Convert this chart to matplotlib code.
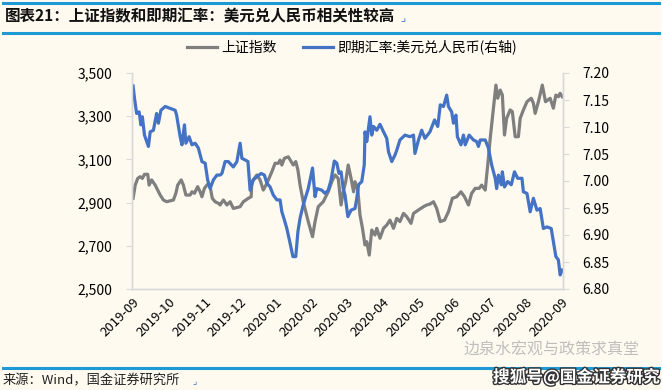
import matplotlib
matplotlib.use("Agg")
import matplotlib.patheffects as pe
import matplotlib.pyplot as plt

# ---------------------------------------------------------------------------
# Data (x = months since 2019-09)
# ---------------------------------------------------------------------------
MONTH_LABELS = ["2019-09", "2019-10", "2019-11", "2019-12", "2020-01", "2020-02",
                "2020-03", "2020-04", "2020-05", "2020-06", "2020-07", "2020-08",
                "2020-09"]

SH_X = [0.00, 0.06, 0.13, 0.20, 0.26, 0.32, 0.41, 0.45, 0.52, 0.62, 0.69, 0.76,
        0.85, 0.94, 1.13, 1.20, 1.25, 1.35, 1.41, 1.48, 1.60, 1.65, 1.72, 1.81,
        1.88, 1.93, 2.00, 2.09, 2.16, 2.22, 2.30, 2.39, 2.44, 2.53, 2.63, 2.72,
        2.81, 3.00, 3.09, 3.23, 3.31, 3.33, 3.47, 3.56, 3.65, 3.75, 3.89, 3.98,
        4.07, 4.12, 4.17, 4.24, 4.35, 4.43, 4.49, 4.56, 4.62, 4.68, 4.77, 4.91,
        5.03, 5.10, 5.19, 5.33, 5.47, 5.57, 5.66, 5.75, 5.83, 5.89, 5.96, 6.03,
        6.11, 6.18, 6.22, 6.30, 6.36, 6.43, 6.50, 6.55, 6.62, 6.69, 6.78, 6.83,
        6.92, 7.02, 7.11, 7.20, 7.30, 7.39, 7.48, 7.58, 7.67, 7.79, 7.86, 8.00,
        8.14, 8.23, 8.32, 8.42, 8.51, 8.61, 8.73, 8.84, 8.95, 9.07, 9.19, 9.29,
        9.40, 9.49, 9.59, 9.70, 9.77, 9.87, 9.94, 10.01, 10.10, 10.17, 10.22,
        10.29, 10.35, 10.41, 10.47, 10.57, 10.63, 10.71, 10.80, 10.85, 10.94,
        11.04, 11.16, 11.22, 11.27, 11.36, 11.47, 11.56, 11.69, 11.78, 11.85,
        11.92, 11.97, 12.03]
SH_INDEX = [2920, 2981, 3012, 3020, 3012, 3031, 3031, 2981, 3005, 2981, 2958, 2935,
            2912, 2904, 2912, 2943, 2981, 3005, 2981, 2935, 2935, 2950, 2943, 2974,
            2950, 2927, 2966, 2985, 2974, 2920, 2904, 2897, 2889, 2912, 2889, 2904,
            2873, 2881, 2904, 2920, 2927, 2997, 3028, 3005, 2958, 2989, 3043, 3082,
            3082, 3097, 3074, 3105, 3112, 3090, 3074, 3090, 3051, 2981, 2904, 2812,
            2742, 2812, 2881, 2904, 2950, 2997, 3028, 3012, 2889, 2950, 2997, 3074,
            3012, 2950, 2997, 2958, 2843, 2781, 2704, 2719, 2657, 2773, 2750, 2781,
            2735, 2781, 2796, 2819, 2781, 2827, 2812, 2850, 2835, 2804, 2850, 2866,
            2881, 2889, 2893, 2904, 2873, 2812, 2819, 2858, 2920, 2927, 2950, 2927,
            2889, 2943, 2966, 2966, 2981, 2958, 3074, 3198, 3337, 3444, 3383,
            3421, 3398, 3213, 3290, 3329, 3321, 3205, 3205, 3290, 3329,
            3367, 3383, 3360, 3313, 3367, 3444, 3367, 3383, 3337, 3398,
            3390, 3406, 3390]

FX_X = [0.00, 0.04, 0.10, 0.17, 0.22, 0.26, 0.32, 0.43, 0.48, 0.57, 0.66, 0.71,
        0.78, 0.90, 1.18, 1.22, 1.32, 1.37, 1.44, 1.48, 1.57, 1.65, 1.74, 1.83,
        1.93, 2.02, 2.09, 2.16, 2.25, 2.35, 2.44, 2.49, 2.58, 2.67, 2.81, 2.91,
        3.00, 3.05, 3.14, 3.22, 3.28, 3.37, 3.47, 3.59, 3.68, 3.75, 3.84, 3.93,
        4.03, 4.12, 4.17, 4.24, 4.31, 4.40, 4.48, 4.56, 4.62, 4.68, 4.77, 4.91,
        5.03, 5.10, 5.15, 5.29, 5.38, 5.47, 5.55, 5.64, 5.71, 5.77, 5.83, 5.89,
        5.94, 6.02, 6.11, 6.22, 6.27, 6.32, 6.41, 6.48, 6.50, 6.55, 6.60, 6.64,
        6.69, 6.74, 6.83, 6.92, 7.02, 7.11, 7.16, 7.25, 7.34, 7.39, 7.48, 7.62,
        7.76, 7.86, 7.90, 8.00, 8.09, 8.18, 8.32, 8.45, 8.54, 8.61, 8.70, 8.75,
        8.79, 8.84, 8.93, 8.98, 9.05, 9.09, 9.19, 9.26, 9.31, 9.42, 9.54, 9.63,
        9.68, 9.73, 9.87, 9.96, 10.05, 10.15, 10.19, 10.24, 10.32, 10.35, 10.41,
        10.50, 10.60, 10.69, 10.78, 10.90, 10.94, 11.04, 11.13, 11.22, 11.32,
        11.41, 11.50, 11.60, 11.72, 11.78, 11.85, 11.92, 11.97, 12.03]
USDCNY = [7.176, 7.153, 7.125, 7.128, 7.104, 7.119, 7.085, 7.064, 7.091, 7.094, 7.125, 7.107,
          7.131, 7.138, 7.131, 7.122, 7.082, 7.067, 7.104, 7.070, 7.082, 7.067, 7.070, 7.061,
          7.036, 7.033, 7.002, 6.986, 7.002, 7.011, 7.011, 7.014, 7.036, 7.036, 7.026, 7.036,
          7.070, 7.042, 7.039, 7.036, 6.983, 7.002, 7.008, 7.014, 7.011, 6.996, 6.989, 6.974,
          6.965, 6.965, 6.943, 6.928, 6.912, 6.885, 6.860, 6.860, 6.906, 6.931, 6.956, 6.986,
          7.024, 6.971, 6.986, 6.983, 6.977, 6.983, 7.002, 7.037, 7.033, 7.014, 7.017, 6.986,
          6.974, 6.934, 6.946, 6.949, 6.968, 6.993, 6.999, 7.030, 7.091, 7.073, 7.098, 7.119,
          7.085, 7.101, 7.094, 7.105, 7.091, 7.079, 7.054, 7.036, 7.048, 7.057, 7.076, 7.085,
          7.082, 7.085, 7.051, 7.076, 7.094, 7.079, 7.091, 7.113, 7.101, 7.141, 7.138, 7.150,
          7.159, 7.138, 7.128, 7.107, 7.122, 7.082, 7.067, 7.085, 7.067, 7.085, 7.076, 7.073,
          7.064, 7.076, 7.076, 7.061, 7.030, 7.005, 6.986, 7.011, 6.993, 7.017, 6.989,
          6.999, 6.993, 7.017, 7.005, 7.005, 6.980, 6.977, 6.943, 6.968, 6.946,
          6.949, 6.912, 6.915, 6.912, 6.888, 6.860, 6.854, 6.826, 6.835]

LEFT_TICKS = [2500, 2700, 2900, 3100, 3300, 3500]
RIGHT_TICKS = [6.80, 6.85, 6.90, 6.95, 7.00, 7.05, 7.10, 7.15, 7.20]

TITLE = "图表21：上证指数和即期汇率：美元兑人民币相关性较高"
SOURCE = "来源：Wind，国金证券研究所"
SERIES_LABELS = ["上证指数", "即期汇率:美元兑人民币(右轴)"]

# ---------------------------------------------------------------------------
# Style
# ---------------------------------------------------------------------------
BG = "#FEFAF0"
GRAY = "#7F7F7F"
BLUE = "#4472C4"
RULE = "#1B9AD6"
AXIS = "#D9D9D9"

plt.rcParams["font.family"] = ["Noto Sans CJK SC", "DejaVu Sans"]
plt.rcParams["font.size"] = 9.5

fig = plt.figure(figsize=(6.62, 3.90), dpi=100, facecolor=BG)
ax = fig.add_axes([132 / 662, 1 - 289 / 390, 431 / 662, 216 / 390])
ax.set_facecolor(BG)
ax2 = ax.twinx()

l1, = ax.plot(SH_X, SH_INDEX, color=GRAY, lw=2.3, solid_joinstyle="round")
l2, = ax2.plot(FX_X, USDCNY, color=BLUE, lw=2.3, solid_joinstyle="round")

ax.set_xlim(-0.03, 12.05)
ax.set_ylim(2500, 3500)
ax2.set_ylim(6.80, 7.20)
ax.set_yticks(LEFT_TICKS)
ax.set_yticklabels([f"{v:,}" for v in LEFT_TICKS])
ax2.set_yticks(RIGHT_TICKS)
ax2.set_yticklabels([f"{v:.2f}" for v in RIGHT_TICKS])
ax.set_xticks(range(len(MONTH_LABELS)))
ax.set_xticklabels(MONTH_LABELS, rotation=45, ha="right", rotation_mode="anchor")

for a in (ax, ax2):
    for s in a.spines.values():
        s.set_color(AXIS)
        s.set_linewidth(1.0)
    a.spines["top"].set_visible(False)
ax.tick_params(axis="y", length=4, color=AXIS, pad=10, labelsize=10)
ax2.tick_params(axis="y", length=4, color=AXIS, pad=10, labelsize=10)
ax.tick_params(axis="x", length=0, pad=5, labelsize=9.5)

fig.legend([l1, l2], SERIES_LABELS, loc="center", bbox_to_anchor=(0.531, 1 - 47 / 390),
           ncol=2, frameon=False, fontsize=10, handlelength=2.2,
           columnspacing=1.9, handletextpad=0.25)

# Header / footer
fig.add_artist(plt.Line2D([0.005, 0.995], [1 - 3 / 390] * 2, color=RULE, lw=2.2))
fig.add_artist(plt.Line2D([0.005, 0.995], [1 - 33 / 390] * 2, color=RULE, lw=2.2))
fig.add_artist(plt.Line2D([0.005, 0.995], [1 - 368 / 390] * 2, color=RULE, lw=2.2))
fig.text(5 / 662, 1 - 16 / 390, TITLE, fontsize=11.2, fontweight="bold", va="center",
         ha="left", color="#111111", style="italic")
fig.text(400 / 662, 1 - 18 / 390, "⌟", fontsize=8, color="#2E6FD8", va="center",
         family=["DejaVu Sans"])
fig.text(3 / 662, 1 - 381 / 390, SOURCE, fontsize=9.5, va="center", ha="left",
         color="#222222")
fig.text(192 / 662, 1 - 382 / 390, "⌟", fontsize=6.5, color="#2E6FD8", va="center",
         family=["DejaVu Sans"])

# Watermarks
fig.text(464 / 662, 1 - 350 / 390, "边泉水宏观与政策求真堂", fontsize=11.5,
         color="#B0B0B0", alpha=0.8, va="center")
fig.text(493 / 662, 1 - 377 / 390, "搜狐号@国金证券研究", fontsize=12, fontweight="bold",
         color="white", va="center",
         path_effects=[pe.withStroke(linewidth=2, foreground="#333333")])

fig.savefig("out.png", dpi=100, facecolor=BG)
